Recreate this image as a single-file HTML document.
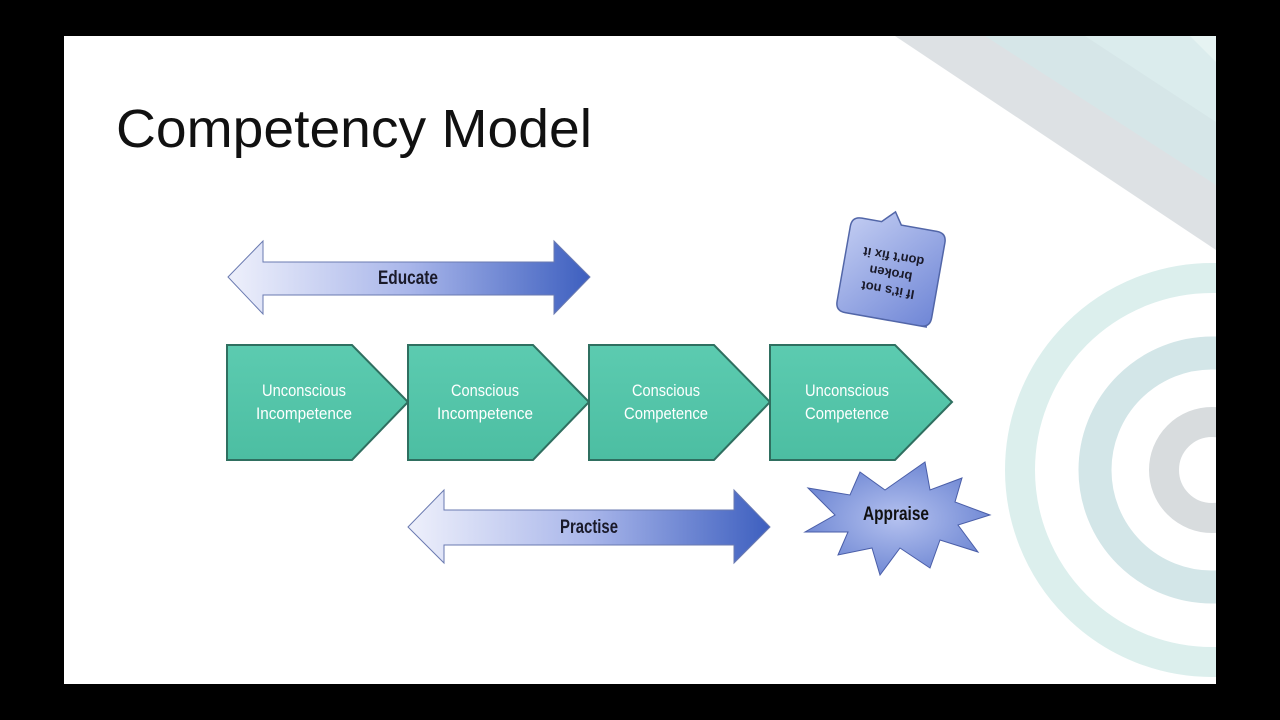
<!DOCTYPE html>
<html><head><meta charset="utf-8"><style>
html,body{margin:0;padding:0;background:#000;}
svg{display:block;}
text{font-family:"Liberation Sans",sans-serif;}
</style></head><body>
<svg width="1280" height="720" viewBox="0 0 1280 720" xmlns="http://www.w3.org/2000/svg">
<defs>
<linearGradient id="ba" x1="0" x2="1" y1="0" y2="0">
<stop offset="0" stop-color="#eef0fb"/><stop offset="0.5" stop-color="#a9b6ea"/><stop offset="1" stop-color="#3d5fbf"/>
</linearGradient>
<linearGradient id="gt" x1="0" x2="0" y1="0" y2="1">
<stop offset="0" stop-color="#5ccbb0"/><stop offset="1" stop-color="#4cbea2"/>
</linearGradient>
<radialGradient id="st" cx="0.5" cy="0.5" r="0.6">
<stop offset="0" stop-color="#b4c1ef"/><stop offset="1" stop-color="#6680d0"/>
</radialGradient>
<linearGradient id="bb" x1="0" x2="1" y1="0" y2="1">
<stop offset="0" stop-color="#6f86d6"/><stop offset="1" stop-color="#c5cff3"/>
</linearGradient>
<clipPath id="slide"><rect x="64" y="36" width="1152" height="648"/></clipPath>
</defs>
<rect x="64" y="36" width="1152" height="648" fill="#fff"/>
<g clip-path="url(#slide)">
<polygon points="895,36 1216,36 1216,250" fill="#dde1e4"/>
<polygon points="985,36 1216,36 1216,185" fill="#d6e6e8"/>
<polygon points="1085,36 1216,36 1216,122" fill="#dbeced"/>
<polygon points="1190,36 1216,36 1216,62" fill="#e6f3f2"/>
<circle cx="1212" cy="470" r="192" fill="none" stroke="#dcefed" stroke-width="30"/>
<circle cx="1212" cy="470" r="117" fill="none" stroke="#d3e6e8" stroke-width="33"/>
<circle cx="1212" cy="470" r="48" fill="none" stroke="#d8dcde" stroke-width="30"/>
</g>
<text x="116" y="147" font-size="54" fill="#111" textLength="476" lengthAdjust="spacingAndGlyphs">Competency Model</text>

<polygon points="228,277 263,241 263,262 554,262 554,241 590,277 554,314 554,295 263,295 263,314" fill="url(#ba)" stroke="#6a7ab0" stroke-width="1"/>
<text x="408" y="284" font-size="19" font-weight="bold" fill="#1a1a2a" text-anchor="middle" textLength="60" lengthAdjust="spacingAndGlyphs">Educate</text>

<polygon points="408,527 444,490 444,510 734,510 734,490 770,527 734,563 734,545 444,545 444,563" fill="url(#ba)" stroke="#6a7ab0" stroke-width="1"/>
<text x="589" y="533" font-size="19" font-weight="bold" fill="#1a1a2a" text-anchor="middle" textLength="58" lengthAdjust="spacingAndGlyphs">Practise</text>

<g stroke="#2f6f60" stroke-width="2" fill="url(#gt)">
<polygon points="227,345 352,345 408,402 352,460 227,460"/>
<polygon points="408,345 533,345 589,402 533,460 408,460"/>
<polygon points="589,345 714,345 770,402 714,460 589,460"/>
<polygon points="770,345 895,345 952,402 895,460 770,460"/>
</g>
<g fill="#fff" font-size="17" text-anchor="middle">
<text x="304" y="396" textLength="84" lengthAdjust="spacingAndGlyphs">Unconscious</text>
<text x="304" y="419" textLength="96" lengthAdjust="spacingAndGlyphs">Incompetence</text>
<text x="485" y="396" textLength="68" lengthAdjust="spacingAndGlyphs">Conscious</text>
<text x="485" y="419" textLength="96" lengthAdjust="spacingAndGlyphs">Incompetence</text>
<text x="666" y="396" textLength="68" lengthAdjust="spacingAndGlyphs">Conscious</text>
<text x="666" y="419" textLength="84" lengthAdjust="spacingAndGlyphs">Competence</text>
<text x="847" y="396" textLength="84" lengthAdjust="spacingAndGlyphs">Unconscious</text>
<text x="847" y="419" textLength="84" lengthAdjust="spacingAndGlyphs">Competence</text>
</g>

<g transform="translate(891,272) rotate(190)">
<path d="M-45,-48 L38,-48 Q48,-48 48,-38 L48,38 Q48,48 38,48 L18,48 L6,60 L-2,48 L-38,48 Q-48,48 -48,38 L-48,-38 Q-48,-48 -38,-48 Z" fill="url(#bb)" stroke="#5266a8" stroke-width="1.5"/>
<g font-size="13" font-weight="bold" fill="#1a1a2a" text-anchor="middle">
<text x="0" y="-14">If it's not</text>
<text x="0" y="3">broken</text>
<text x="0" y="20">don't fix it</text>
</g>
</g>

<polygon points="808,488 850,495 860,472 885,490 925,462 930,490 962,478 955,502 990,515 958,525 978,552 940,540 930,568 900,548 880,575 872,548 838,555 848,532 805,532 835,515" fill="url(#st)" stroke="#4a5ea8" stroke-width="1"/>
<text x="896" y="520" font-size="19" font-weight="bold" fill="#111" text-anchor="middle" textLength="66" lengthAdjust="spacingAndGlyphs">Appraise</text>
</svg>
</body></html>
